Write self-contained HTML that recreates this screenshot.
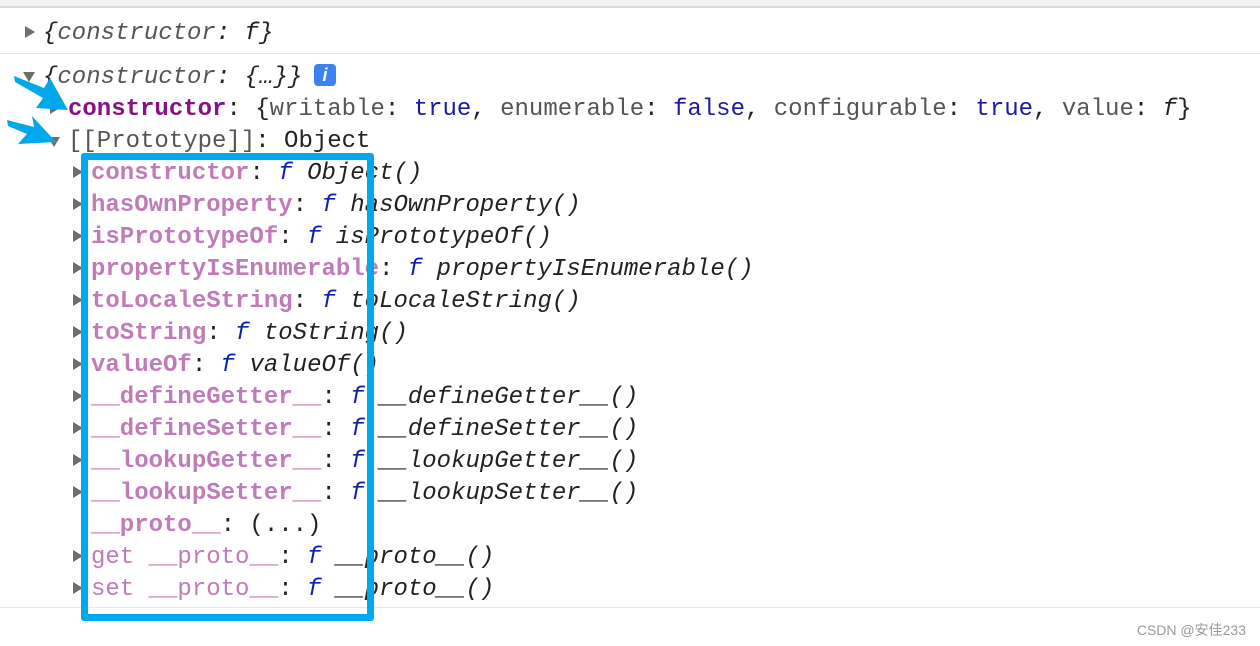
<!DOCTYPE html>
<html><head><meta charset="utf-8"><style>
body{margin:0;width:1260px;height:646px;background:#fff;position:relative;overflow:hidden;font-family:"Liberation Mono","DejaVu Sans Mono",monospace;font-size:24px;color:#222}
.r{position:absolute;height:32px;line-height:36px;white-space:pre}
.t{position:absolute;width:0;height:0}
.tr{border-top:6px solid transparent;border-bottom:6px solid transparent;border-left:10px solid #6e6e6e}
.td{border-left:6px solid transparent;border-right:6px solid transparent;border-top:10px solid #6e6e6e}
i{font-style:italic}
.g{color:#555}
.p{color:#881280;font-weight:bold}
.l{color:#c07cb8;font-weight:bold}
.ln{color:#c07cb8}
.b{color:#1a1aa6}
.f{color:#0d22aa;font-style:italic}
</style></head><body>
<div style="position:absolute;left:0;top:0;width:1260px;height:6px;background:#f3f3f3;border-bottom:2px solid #ddd"></div>
<div style="position:absolute;left:0;top:53px;width:1260px;height:1px;background:#e6e6e6"></div>
<div style="position:absolute;left:0;top:607px;width:1260px;height:1px;background:#e6e6e6"></div>

<div class="t tr" style="left:25px;top:26px"></div>
<div class="r" style="left:43px;top:16px"><i>{<span class="g">constructor</span>: f}</i></div>

<div class="t td" style="left:23px;top:72px"></div>
<div class="r" style="left:43px;top:60px"><i>{<span class="g">constructor</span>: {…}}</i></div>
<div style="position:absolute;left:314px;top:64px;width:22px;height:22px;background:#3b82f0;border-radius:4px;color:#fff;font:italic bold 18px 'Liberation Sans',sans-serif;text-align:center;line-height:22px">i</div>

<div class="t tr" style="left:50px;top:102px"></div>
<div class="r" style="left:68px;top:92px"><span class="p">constructor</span>: {<span class="g">writable</span>: <span class="b">true</span>, <span class="g">enumerable</span>: <span class="b">false</span>, <span class="g">configurable</span>: <span class="b">true</span>, <span class="g">value</span>: <i>f</i>}</div>

<div class="t td" style="left:48px;top:137px"></div>
<div class="r" style="left:68px;top:124px"><span class="g">[[Prototype]]</span>: Object</div>

<div class="t tr" style="left:73px;top:166px"></div><div class="r" style="left:91px;top:156px"><span class="l">constructor</span>: <span class="f">f</span> <i>Object()</i></div>
<div class="t tr" style="left:73px;top:198px"></div><div class="r" style="left:91px;top:188px"><span class="l">hasOwnProperty</span>: <span class="f">f</span> <i>hasOwnProperty()</i></div>
<div class="t tr" style="left:73px;top:230px"></div><div class="r" style="left:91px;top:220px"><span class="l">isPrototypeOf</span>: <span class="f">f</span> <i>isPrototypeOf()</i></div>
<div class="t tr" style="left:73px;top:262px"></div><div class="r" style="left:91px;top:252px"><span class="l">propertyIsEnumerable</span>: <span class="f">f</span> <i>propertyIsEnumerable()</i></div>
<div class="t tr" style="left:73px;top:294px"></div><div class="r" style="left:91px;top:284px"><span class="l">toLocaleString</span>: <span class="f">f</span> <i>toLocaleString()</i></div>
<div class="t tr" style="left:73px;top:326px"></div><div class="r" style="left:91px;top:316px"><span class="l">toString</span>: <span class="f">f</span> <i>toString()</i></div>
<div class="t tr" style="left:73px;top:358px"></div><div class="r" style="left:91px;top:348px"><span class="l">valueOf</span>: <span class="f">f</span> <i>valueOf()</i></div>
<div class="t tr" style="left:73px;top:390px"></div><div class="r" style="left:91px;top:380px"><span class="l">__defineGetter__</span>: <span class="f">f</span> <i>__defineGetter__()</i></div>
<div class="t tr" style="left:73px;top:422px"></div><div class="r" style="left:91px;top:412px"><span class="l">__defineSetter__</span>: <span class="f">f</span> <i>__defineSetter__()</i></div>
<div class="t tr" style="left:73px;top:454px"></div><div class="r" style="left:91px;top:444px"><span class="l">__lookupGetter__</span>: <span class="f">f</span> <i>__lookupGetter__()</i></div>
<div class="t tr" style="left:73px;top:486px"></div><div class="r" style="left:91px;top:476px"><span class="l">__lookupSetter__</span>: <span class="f">f</span> <i>__lookupSetter__()</i></div>
<div class="r" style="left:91px;top:508px"><span class="l">__proto__</span>: (...)</div>
<div class="t tr" style="left:73px;top:550px"></div><div class="r" style="left:91px;top:540px"><span class="ln">get __proto__</span>: <span class="f">f</span> <i>__proto__()</i></div>
<div class="t tr" style="left:73px;top:582px"></div><div class="r" style="left:91px;top:572px"><span class="ln">set __proto__</span>: <span class="f">f</span> <i>__proto__()</i></div>

<div style="position:absolute;left:81px;top:153px;width:279px;height:454px;border:7px solid #00a8ec;border-radius:3px"></div>

<svg style="position:absolute;left:0;top:0" width="120" height="160">
<polygon points="14,76 44,88 50,78 68,110 36,108 43,98 15,82" fill="#00a8ec"/>
<polygon points="7,120 34,127 32,116 56,142 18,144 27,134 8,126" fill="#00a8ec"/>
</svg>

<div style="position:absolute;right:14px;top:620px;font:14px 'Liberation Sans','Noto Sans CJK SC',sans-serif;color:#999">CSDN @安佳233</div>
</body></html>
